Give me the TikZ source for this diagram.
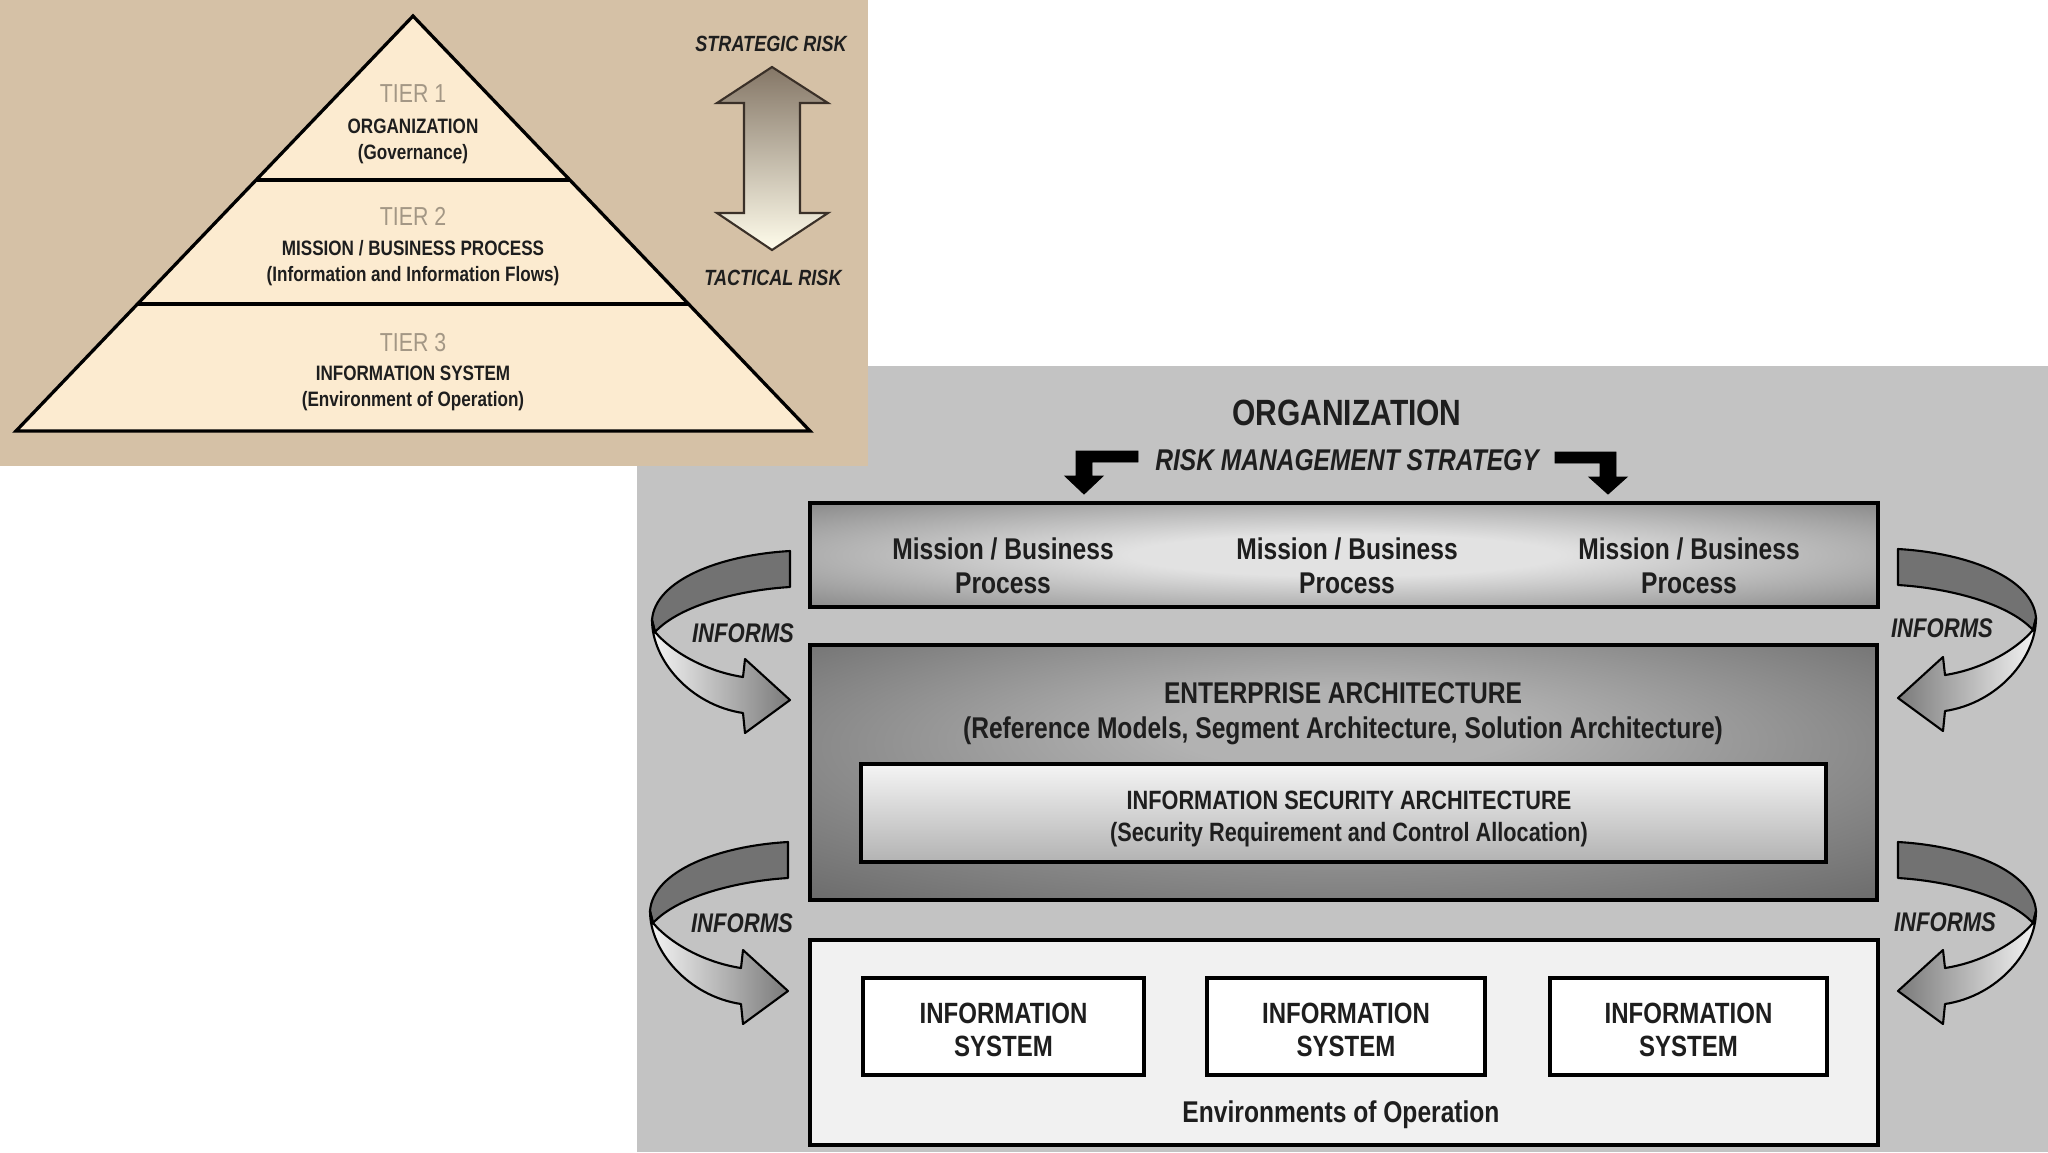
\documentclass[tikz,border=0pt]{standalone}
\usepackage{fontspec}
\setmainfont[FakeStretch=0.82]{Liberation Sans}
\usetikzlibrary{fit}
\definecolor{tanbg}{HTML}{D5C1A6}
\definecolor{pyrfill}{HTML}{FCEBD0}
\definecolor{panelgray}{HTML}{C3C3C3}
\definecolor{tiergray}{HTML}{A39785}
\definecolor{txt}{HTML}{1E1E1E}
\definecolor{mbin}{HTML}{E2E2E2}
\definecolor{mbmid}{HTML}{A4A4A4}
\definecolor{mbout}{HTML}{727272}
\definecolor{eain}{HTML}{B2B2B2}
\definecolor{eaout}{HTML}{6A6A6A}
\definecolor{ribdark}{HTML}{727272}
\definecolor{riblight}{HTML}{F4F4F4}
\definecolor{ribgray}{HTML}{7A7A7A}
\definecolor{envfill}{HTML}{F1F1F1}
\definecolor{arrtop}{HTML}{857767}
\definecolor{arrbot}{HTML}{FFFCEB}
\definecolor{arredge}{HTML}{3A3028}
\pgfdeclareradialshading{mbshade}{\pgfpoint{0bp}{0bp}}{color(0bp)=(mbin); color(10bp)=(mbin); color(28bp)=(mbmid); color(42bp)=(mbout); color(50bp)=(mbout)}
\pgfdeclareradialshading{eashade}{\pgfpoint{0bp}{10bp}}{color(0bp)=(eain); color(8bp)=(eain); color(38bp)=(eaout); color(50bp)=(eaout)}
\newcommand{\ribbonarrow}[2]{%
  \begin{scope}[#1]
    \draw[ribedge, fill=ribdark] (0,0) .. controls (-70,4) and (-135,29) .. (-138,69)
      -- (-135,81) .. controls (-110,54) and (-50,39) .. (0,36) -- cycle;
    \draw[ribedge, #2] (-138,69) .. controls (-138,109) and (-100,154) .. (-47,162)
      -- (-45,182) -- (0,149) -- (-45,108) -- (-47,126)
      .. controls (-80,121) and (-115,104) .. (-135,81) -- cycle;
  \end{scope}}
\begin{document}
\begin{tikzpicture}[x=0.015cm,y=-0.015cm,
  every node/.style={inner sep=0pt, text=txt},
  pyr/.style={line width=1.4pt, draw=black, line join=miter},
  tier/.style={text=tiergray, font=\fontsize{11.1}{12}\selectfont},
  pyrtxt/.style={align=center, font=\bfseries\fontsize{8.9}{11.1}\selectfont},
  risklbl/.style={font=\bfseries\itshape\fontsize{9.4}{10}\selectfont},
  bigbox/.style={draw=black, line width=1.3pt, inner sep=0pt},
  mbtxt/.style={align=center, font=\bfseries\fontsize{12.8}{14.5}\selectfont},
  eatxt/.style={align=center, font=\bfseries\fontsize{12.8}{15}\selectfont},
  isatxt/.style={align=center, font=\bfseries\fontsize{11.3}{14}\selectfont},
  istxt/.style={align=center, font=\bfseries\fontsize{12.5}{14}\selectfont},
  isbox/.style={draw=black, line width=1.3pt, fill=white, inner sep=0pt},
  informs/.style={font=\bfseries\itshape\fontsize{11.5}{12}\selectfont},
  ribedge/.style={draw=black, line width=0.9pt, line join=round},
  ribL/.style={left color=riblight, right color=ribgray},
  ribR/.style={left color=ribgray, right color=riblight},
  elbow/.style={fill=black, draw=black, line width=0.4pt}]
\useasboundingbox (0,0) rectangle (2048,1152);
\fill[white] (0,0) rectangle (2048,1152);
% ---------- right gray panel ----------
\fill[panelgray] (637,366) rectangle (2048,1152);
% ---------- pyramid panel ----------
\fill[tanbg] (0,0) rectangle (868,466);
\draw[pyr, fill=pyrfill] (413,16) -- (810,431) -- (16,431) -- cycle;
\draw[pyr] (256,180) -- (570,180);
\draw[pyr] (137,304) -- (689,304);
\node[tier] (t1) at (413,94) {TIER 1};
\node[pyrtxt] (t1b) at (413,141) {ORGANIZATION\\(Governance)};
\node[tier] (t2) at (413,216) {TIER 2};
\node[pyrtxt] (t2b) at (413,263) {MISSION / BUSINESS PROCESS\\(Information and Information Flows)};
\node[tier] (t3) at (413,343) {TIER 3};
\node[pyrtxt] (t3b) at (413,388) {INFORMATION SYSTEM\\(Environment of Operation)};
\node[risklbl] (strat) at (771,44) {STRATEGIC RISK};
\node[risklbl] (tact) at (773,278) {TACTICAL RISK};
\draw[top color=arrtop, bottom color=arrbot, draw=arredge, line width=0.9pt, line join=miter]
  (772,67) -- (828,103) -- (800,103) -- (800,213) -- (828,213) -- (772,250)
  -- (717,213) -- (744,213) -- (744,103) -- (717,103) -- cycle;
% ---------- organization header ----------
\node[font=\bfseries\fontsize{15.6}{17}\selectfont] (org) at (1347,413) {ORGANIZATION};
\node[font=\bfseries\itshape\fontsize{12.8}{14}\selectfont] (rms) at (1347,460) {RISK MANAGEMENT STRATEGY};
\draw[elbow] (1138,451) -- (1076,451) -- (1076,476) -- (1065,476) -- (1084,494)
  -- (1103,476) -- (1092,476) -- (1092,462) -- (1138,462) -- cycle;
\draw[elbow] (1555,452) -- (1616,452) -- (1616,477) -- (1627,477) -- (1608,494)
  -- (1589,477) -- (1600,477) -- (1600,463) -- (1555,463) -- cycle;
% ---------- mission / business box ----------
\node[bigbox, fit={(810,503) (1878,607)}, shading=mbshade] (mission) {};
\node[mbtxt] (mb1) at (1003,566) {Mission / Business\\Process};
\node[mbtxt] (mb2) at (1347,566) {Mission / Business\\Process};
\node[mbtxt] (mb3) at (1689,566) {Mission / Business\\Process};
% ---------- enterprise architecture ----------
\node[bigbox, fit={(810,645) (1877,900)}, shading=eashade] (ea) {};
\node[eatxt] (eat) at (1343,714) {ENTERPRISE ARCHITECTURE\\(Reference Models, Segment Architecture, Solution Architecture)};
\node[bigbox, fit={(861,764) (1826,862)}, top color=white!96!black, bottom color=black!30] (isa) {};
\node[isatxt] (isat) at (1349,819) {INFORMATION SECURITY ARCHITECTURE\\(Security Requirement and Control Allocation)};
% ---------- environments of operation ----------
\node[bigbox, fit={(810,940) (1878,1145)}, fill=envfill] (env) {};
\node[isbox, fit={(863,978) (1144,1075)}] (is1) {};
\node[isbox, fit={(1207,978) (1485,1075)}] (is2) {};
\node[isbox, fit={(1550,978) (1827,1075)}] (is3) {};
\node[istxt] at ([yshift=-3*0.015cm]is1.center) {INFORMATION\\SYSTEM};
\node[istxt] at ([yshift=-3*0.015cm]is2.center) {INFORMATION\\SYSTEM};
\node[istxt] at ([yshift=-3*0.015cm]is3.center) {INFORMATION\\SYSTEM};
\node[font=\bfseries\fontsize{12.8}{14}\selectfont] (envt) at (1341,1115) {Environments of Operation};
% ---------- INFORMS ribbons ----------
\ribbonarrow{shift={(790,551)}}{ribL}
\ribbonarrow{shift={(788,842)}}{ribL}
\ribbonarrow{shift={(1898,549)}, xscale=-1}{ribR}
\ribbonarrow{shift={(1898,842)}, xscale=-1}{ribR}
\node[informs] (inf1) at (743,633) {INFORMS};
\node[informs] (inf2) at (742,923) {INFORMS};
\node[informs] (inf3) at (1942,628) {INFORMS};
\node[informs] (inf4) at (1945,922) {INFORMS};
\end{tikzpicture}
\end{document}
